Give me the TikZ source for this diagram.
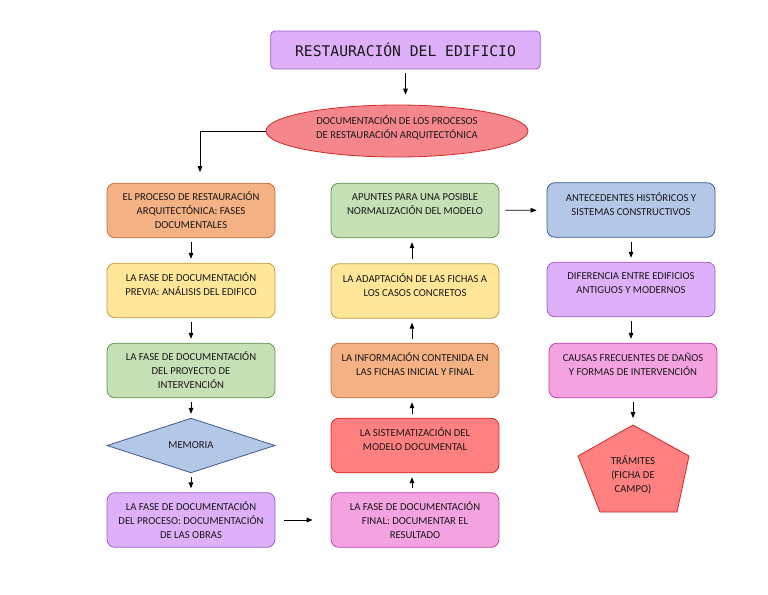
\documentclass[tikz,border=0pt]{standalone}
\usepackage{fontspec}
\setmainfont{Carlito}
\newfontfamily\titulofont{DejaVu Sans Mono}
\usetikzlibrary{shapes.geometric,arrows.meta}

\definecolor{naranja}{RGB}{244,177,131}
\definecolor{naranjaborde}{RGB}{196,110,64}
\definecolor{amarillo}{RGB}{255,230,153}
\definecolor{amarilloborde}{RGB}{190,158,60}
\definecolor{verde}{RGB}{197,224,180}
\definecolor{verdeborde}{RGB}{98,146,80}
\definecolor{azul}{RGB}{180,199,231}
\definecolor{azulborde}{RGB}{62,90,140}
\definecolor{lila}{RGB}{222,176,250}
\definecolor{lilaborde}{RGB}{158,92,200}
\definecolor{rosa}{RGB}{245,162,225}
\definecolor{rosaborde}{RGB}{196,64,168}
\definecolor{rojo}{RGB}{255,128,128}
\definecolor{rojoborde}{RGB}{210,40,40}

\tikzset{
    caja/.style={draw, rounded corners=6pt, line width=0.6pt, minimum width=126pt,
        minimum height=41pt, inner sep=2pt, align=center, text=black!90,
        font=\fontsize{8}{10.5}\selectfont},
    dos/.style={text depth=9pt},
    flecha/.style={-{Triangle[length=4.5pt,width=3.5pt]}, line width=0.6pt,
        shorten <=3pt, shorten >=3pt}
}

\begin{document}
\begin{tikzpicture}[x=0.75pt,y=-0.75pt]
    \useasboundingbox (0,0) rectangle (768,594);

    % cabecera
    \node[caja, fill=lila, draw=lilaborde, rounded corners=3pt, minimum width=202pt,
        minimum height=28.5pt, font=\titulofont\fontsize{11}{13}\selectfont] (titulo)
        at (405.5,50) {RESTAURACIÓN DEL EDIFICIO};
    \node[ellipse, draw=rojoborde, fill={rgb,255:red,245;green,135;blue,140}, line width=0.6pt,
        minimum width=196.5pt, minimum height=39pt, inner sep=0pt, align=center, text=black!90,
        text depth=6.5pt, font=\fontsize{8}{10.5}\selectfont] (documentacion) at (397,131)
        {DOCUMENTACIÓN DE LOS PROCESOS\\DE RESTAURACIÓN ARQUITECTÓNICA};

    % columna izquierda
    \node[caja, fill=naranja, draw=naranjaborde] (proceso) at (191,210.5)
        {EL PROCESO DE RESTAURACIÓN\\ARQUITECTÓNICA: FASES\\DOCUMENTALES};
    \node[caja, dos, fill=amarillo, draw=amarilloborde] (previa) at (191,290.5)
        {LA FASE DE DOCUMENTACIÓN\\PREVIA: ANÁLISIS DEL EDIFICO};
    \node[caja, fill=verde, draw=verdeborde] (proyecto) at (191,370.5)
        {LA FASE DE DOCUMENTACIÓN\\DEL PROYECTO DE\\INTERVENCIÓN};
    \node[diamond, draw=azulborde, fill=azul, line width=0.6pt, aspect=3.05, inner sep=0pt,
        minimum width=126pt, minimum height=41pt, text=black!90,
        font=\fontsize{8}{10.5}\selectfont] (memoria) at (191,445.5) {MEMORIA};
    \node[caja, fill=lila, draw=lilaborde] (obras) at (191,520)
        {LA FASE DE DOCUMENTACIÓN\\DEL PROCESO: DOCUMENTACIÓN\\DE LAS OBRAS};

    % columna central
    \node[caja, fill=rosa, draw=rosaborde] (final) at (415,520)
        {LA FASE DE DOCUMENTACIÓN\\FINAL: DOCUMENTAR EL\\RESULTADO};
    \node[caja, dos, fill=rojo, draw=rojoborde] (sistema) at (415,445.5)
        {LA SISTEMATIZACIÓN DEL\\MODELO DOCUMENTAL};
    \node[caja, dos, fill=naranja, draw=naranjaborde] (fichas) at (415,370.5)
        {LA INFORMACIÓN CONTENIDA EN\\LAS FICHAS INICIAL Y FINAL};
    \node[caja, dos, fill=amarillo, draw=amarilloborde] (adaptacion) at (415,291)
        {LA ADAPTACIÓN DE LAS FICHAS A\\LOS CASOS CONCRETOS};
    \node[caja, dos, fill=verde, draw=verdeborde] (apuntes) at (415,210.5)
        {APUNTES PARA UNA POSIBLE\\NORMALIZACIÓN DEL MODELO};

    % columna derecha
    \node[caja, dos, fill=azul, draw=azulborde] (antecedentes) at (631,210)
        {ANTECEDENTES HISTÓRICOS Y\\SISTEMAS CONSTRUCTIVOS};
    \node[caja, dos, fill=lila, draw=lilaborde] (diferencia) at (631,289.5)
        {DIFERENCIA ENTRE EDIFICIOS\\ANTIGUOS Y MODERNOS};
    \node[caja, dos, fill=rosa, draw=rosaborde] (causas) at (633,370.5)
        {CAUSAS FRECUENTES DE DAÑOS\\Y FORMAS DE INTERVENCIÓN};
    \draw[fill=rojo, draw=rojoborde, line width=0.6pt]
        (633,425) -- (689,456) -- (677,512) -- (600,512) -- (578,456) -- cycle;
    \coordinate (pico) at (633,425);
    \node[align=center, text=black!90, font=\fontsize{8}{10.5}\selectfont] (tramites)
        at (633,475) {TRÁMITES\\(FICHA DE\\CAMPO)};

    % flechas
    \draw[flecha, shorten >=7.5pt] (titulo.south) -- (titulo.south |- documentacion.north);
    \draw[flecha, shorten <=0pt, shorten >=8pt] (documentacion.west)
        -| ([xshift=6.75pt]proceso.north);
    \draw[flecha] (proceso) -- (previa);
    \draw[flecha] (previa) -- (proyecto);
    \draw[flecha] (proyecto) -- (memoria);
    \draw[flecha] (memoria) -- (obras);
    \draw[flecha, shorten <=6.75pt, shorten >=13.5pt] (obras) -- (final);
    \draw[flecha] ([xshift=-2.25pt]final.north) -- ([xshift=-2.25pt]sistema.south);
    \draw[flecha] ([xshift=-2.25pt]sistema.north) -- ([xshift=-2.25pt]fichas.south);
    \draw[flecha] ([xshift=-2.25pt]fichas.north) -- ([xshift=-2.25pt]adaptacion.south);
    \draw[flecha] ([xshift=-2.25pt]adaptacion.north) -- ([xshift=-2.25pt]apuntes.south);
    \draw[flecha, shorten <=4.5pt, shorten >=7.5pt] (apuntes) -- (antecedentes);
    \draw[flecha] (antecedentes) -- (diferencia);
    \draw[flecha] (diferencia) -- (diferencia |- causas.north);
    \draw[flecha, shorten >=5.25pt] (causas) -- (pico);
\end{tikzpicture}
\end{document}
